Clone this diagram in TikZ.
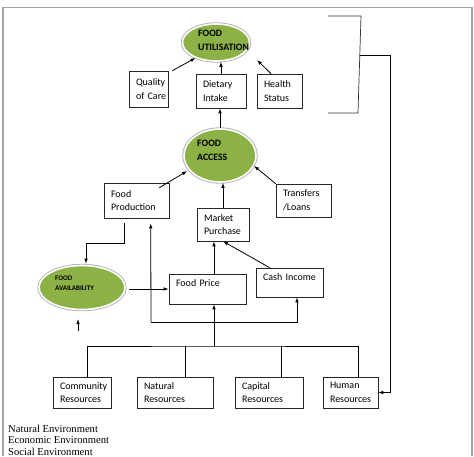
\documentclass[tikz,border=0pt]{standalone}
\usepackage{fontspec}
\setmainfont{Carlito}
\newfontfamily\envfont{Liberation Serif}
\usetikzlibrary{arrows.meta,calc,shapes.geometric}
\definecolor{leaf}{RGB}{140,178,70}
\definecolor{framegray}{RGB}{165,165,165}
\begin{document}
\begin{tikzpicture}[x=1pt,y=-1pt,
  arr/.style={-{Latex[length=5pt,width=3.6pt]}, line width=0.8pt},
  ln/.style={line width=0.8pt},
  box/.style={draw=black!85, line width=0.6pt, fill=white, align=left,
    inner xsep=7pt, inner ysep=1pt, font=\fontsize{10}{13.5}\selectfont},
  ell/.style={ellipse, fill=leaf, draw=white, line width=1.6pt,
    preaction={draw=black!30, line width=3.4pt}, inner sep=0pt},
  etext/.style={text=black, font=\bfseries\fontsize{9.8}{14}\selectfont, align=left,
    inner sep=0pt, anchor=west}]
\useasboundingbox (0,0) rectangle (474,456);
% frame
\draw[framegray, line width=1.2pt] (3,456) -- (3,7.5) -- (472,7.5) -- (472,456);

% ellipses
\node[ell, minimum width=67pt, minimum height=37pt] (util) at (216,42.5) {};
\node[etext] (utilT) at (198,40) {FOOD\\UTILISATION};
\node[ell, minimum width=72pt, minimum height=53pt] (access) at (220,155.5) {};
\node[etext] (accessT) at (197,150.5) {FOOD\\ACCESS};
\node[ell, minimum width=86pt, minimum height=44pt] (avail) at (82,287.5) {};
\node[etext, font=\bfseries\fontsize{7}{10}\selectfont] (availT) at (55,283) {FOOD\\AVAILABILITY};

% boxes
\node[box, text width=25pt, minimum height=36pt] (quality) at (148.5,89) {Quality\\\mbox{of Care}};
\node[box, text width=36pt, minimum height=34pt] (dietary) at (221,91) {Dietary\\Intake};
\node[box, text width=31pt, minimum height=34pt] (health) at (279.5,91) {Health\\Status};
\node[box, text width=51pt, minimum height=35pt] (foodprod) at (136.5,200.5) {Food\\Production};
\node[box, text width=41pt, minimum height=33pt] (transfers) at (303.5,200.5) {Transfers\\/Loans};
\node[box, text width=38pt, minimum height=33pt] (market) at (223,224.5) {Market\\Purchase};
\node[box, text width=63pt, minimum height=30pt, text depth=12pt] (foodprice) at (207.5,289) {Food Price};
\node[box, text width=53pt, minimum height=29pt, text depth=11pt] (cash) at (289.5,282.5) {Cash Income};
\node[box, text width=44pt, minimum height=31pt] (community) at (82,392.5) {Community\\Resources};
\node[box, text width=62pt, minimum height=31pt] (natural) at (175,392.5) {Natural\\Resources};
\node[box, text width=54pt, minimum height=31pt] (capital) at (269,392.5) {Capital\\Resources};
\node[box, text width=41pt, minimum height=31pt] (human) at (350.5,392.5) {Human\\Resources};

% coordinates
\coordinate (hsEnd) at (257,60);
\coordinate (lonely) at (78,331);
\coordinate (loopL) at (151,322);
\coordinate (hub) at (214,346);
\coordinate (bA) at (328,16);
\coordinate (bB) at (361,16);
\coordinate (bC) at (358,113);
\coordinate (bD) at (328,113);
\coordinate (bM) at (360,55);
\coordinate (bR) at (390,55);

% connectors to utilisation
\draw[arr] ($(quality.north east)+(4,0)$) -- (util.217);
\draw[arr] (dietary.north) -- (dietary.north |- util.south);
\draw[arr] ($(health.north)+(-8.5,0)$) -- (hsEnd);
\draw[arr] (access.north) -- (access.north |- dietary.south);

% connectors to access
\draw[arr, shorten >=2pt] ($(foodprod.north east)+(-10,5)$) -- (access.205);
\draw[arr] (transfers.north west) -- (access.-17);
\draw[arr] (market.north) -- (market.north |- access.south);
\draw[arr] ($(foodprice.north)+(6.5,0)$) -- ($(market.south)+(-9,0)$);
\draw[arr] ($(cash.north west)+(14,0)$) -- (market.south);

% availability
\draw[arr] ($(foodprod.south west)+(21,5)$) -- ++(0,20) -| ($(avail.north)+(4,-1)$);
\draw[arr] ($(avail.east |- foodprice.west)+(3,0)$) -- (foodprice.west);
\draw[arr] (lonely) -- ++(0,-12);

% loop
\draw[arr] (loopL) -- ($(foodprod.south west)+(47,5)$);
\draw[arr] (loopL) -| ($(cash.south)+(7.5,0)$);

% resources tree
\draw[arr] (hub) -- (hub |- foodprice.south);
\draw[ln] ($(community.north)+(5,0)$) |- (hub) -| ($(human.north)+(7.5,0)$);
\draw[ln] ($(natural.north)+(10,0)$) -- ++(0,-31);
\draw[ln] ($(capital.north)+(12,0)$) -- ++(0,-31);

% bracket
\draw[line width=0.7pt, black!80] (bA) -- (bB) -- (bC) -- (bD);
\draw[arr, line width=0.7pt] (bM) -- (bR) |- (human.east);

% environment text
\node[anchor=north west, align=left, inner sep=0pt,
  font=\envfont\fontsize{10.6}{11.6}\selectfont] (env) at (8,424.5)
  {Natural Environment\\Economic Environment\\Social Environment};
\end{tikzpicture}
\end{document}
